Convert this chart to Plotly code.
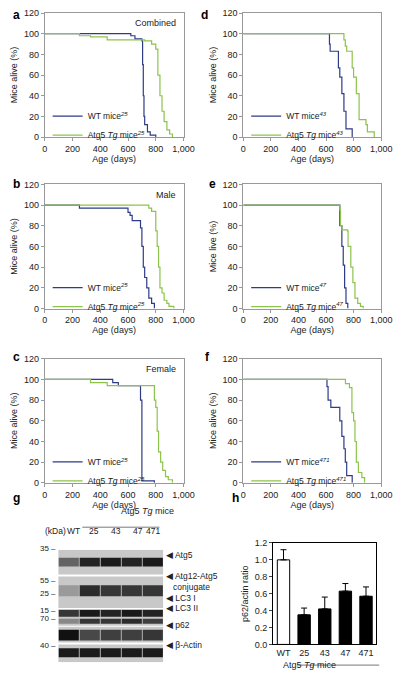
import plotly.graph_objects as go

# page has an 8px body margin: figure is drawn 8px in from the top-left
OFF = 8
W, H = 404 - 2 * OFF, 685 - 2 * OFF
def px(x): return (x - OFF) / W
def py(y): return 1 - (y - OFF) / H

WT_C = "#2e3b85"
TG_C = "#8cc34a"
FONT = "Liberation Sans"

# ---- survival data (age days, % alive) ----
a_wt_x = [0, 620, 650, 700, 705, 710, 715, 720, 740, 760, 800]
a_wt_y = [100, 98, 95, 93, 70, 40, 20, 12, 5, 2, 0]
a_tg_x = [0, 250, 330, 450, 720, 770, 800, 815, 830, 845, 860, 880, 900, 920]
a_tg_y = [100, 98, 97, 94, 93, 90, 85, 60, 40, 25, 15, 7, 3, 0]

b_wt_x = [0, 250, 600, 615, 630, 690, 700, 710, 720, 735, 750, 770, 790]
b_wt_y = [100, 97, 93, 90, 85, 78, 60, 40, 30, 20, 10, 5, 0]
b_tg_x = [0, 750, 770, 800, 810, 820, 830, 845, 860, 880, 895, 930]
b_tg_y = [100, 97, 94, 75, 60, 40, 20, 15, 8, 5, 2, 0]

c_wt_x = [0, 490, 530, 690, 700, 790]
c_wt_y = [100, 97, 94, 80, 2, 0]
c_tg_x = [0, 330, 450, 790, 800, 810, 820, 835, 850, 870, 890, 920]
c_tg_y = [100, 97, 94, 80, 73, 50, 30, 20, 12, 6, 3, 0]

d_wt_x = [0, 625, 630, 690, 700, 715, 730, 745, 790]
d_wt_y = [100, 90, 83, 67, 58, 42, 25, 8, 0]
d_tg_x = [0, 730, 740, 750, 790, 800, 820, 840, 890, 900, 950]
d_tg_y = [100, 94, 88, 83, 67, 58, 42, 17, 12, 5, 0]

e_wt_x = [0, 700, 715, 725, 735, 745, 758]
e_wt_y = [100, 80, 60, 42, 20, 5, 0]
e_tg_x = [0, 700, 705, 715, 755, 760, 780, 795, 810, 830, 850, 870]
e_tg_y = [100, 95, 80, 76, 75, 60, 40, 25, 10, 5, 2, 0]

f_wt_x = [0, 607, 615, 635, 700, 715, 730, 740, 750, 790]
f_wt_y = [100, 93, 80, 73, 60, 45, 33, 20, 7, 0]
f_tg_x = [0, 741, 770, 788, 800, 810, 820, 835, 860, 880]
f_tg_y = [100, 96, 92, 68, 60, 40, 20, 10, 5, 0]

# ---- bar chart h ----
h_labels = ["WT", "25", "43", "47", "471"]
h_values = [1.0, 0.35, 0.42, 0.63, 0.57]
h_errors = [0.12, 0.08, 0.14, 0.09, 0.11]

# ---- western blot g ----
lanes = ["WT", "25", "43", "47", "471"]
band_atg5 = [0.55, 0.9, 0.95, 0.9, 0.95]
band_atg12 = [0.25, 0.85, 0.8, 0.8, 0.8]
band_lc3i = [0.8, 0.95, 0.9, 0.95, 0.9]
band_lc3ii = [0.35, 0.8, 0.8, 0.85, 0.75]
band_p62 = [1.0, 0.7, 0.75, 0.75, 0.8]
band_actin = [0.95, 0.95, 0.95, 0.95, 0.95]

panels = [
    ("a", (a_wt_x, a_wt_y), (a_tg_x, a_tg_y), "25", "Mice alive (%)", "Combined", (43, 187), (8, 134), (8, 10)),
    ("b", (b_wt_x, b_wt_y), (b_tg_x, b_tg_y), "25", "Mice alive (%)", "Male", (43, 187), (182, 308), (8, 182)),
    ("c", (c_wt_x, c_wt_y), (c_tg_x, c_tg_y), "25", "Mice alive (%)", "Female", (43, 187), (359, 485), (8, 357)),
    ("d", (d_wt_x, d_wt_y), (d_tg_x, d_tg_y), "43", "Mice alive (%)", None, (249, 392), (8, 134), (203, 10)),
    ("e", (e_wt_x, e_wt_y), (e_tg_x, e_tg_y), "47", "Mice live (%)", None, (249, 392), (182, 308), (211, 182)),
    ("f", (f_wt_x, f_wt_y), (f_tg_x, f_tg_y), "471", "Mice alive (%)", None, (249, 392), (359, 485), (207, 357)),
]

fig = go.Figure()
layout = dict(width=W, height=H, margin=dict(l=0, r=0, t=0, b=0),
              plot_bgcolor="white", paper_bgcolor="white",
              font=dict(family=FONT, size=9, color="#222"), showlegend=True)
ann = []
shapes = []
tickf = dict(family=FONT, size=9, color="#222")

for i, (key, wt, tg, sup, ytit, title, xd, yd, lp) in enumerate(panels):
    n = i + 1
    xa = "x" if n == 1 else f"x{n}"
    ya = "y" if n == 1 else f"y{n}"
    lg = "legend" if n == 1 else f"legend{n}"
    fig.add_trace(go.Scatter(x=wt[0], y=wt[1], mode="lines", line=dict(color=WT_C, width=1.2, shape="hv"),
                             name=f"WT mice<sup><i>{sup}</i></sup>", xaxis=xa, yaxis=ya, legend=lg))
    fig.add_trace(go.Scatter(x=tg[0], y=tg[1], mode="lines", line=dict(color=TG_C, width=1.2, shape="hv"),
                             name=f"Atg5 <i>Tg</i> mice<sup><i>{sup}</i></sup>", xaxis=xa, yaxis=ya, legend=lg))
    layout["xaxis" if n == 1 else f"xaxis{n}"] = dict(
        domain=[px(xd[0]), px(xd[1])], range=[0, 1000], dtick=200, tickformat=",", anchor=ya,
        showline=True, linecolor="#999", mirror=True, ticks="outside", ticklen=3, tickcolor="#999",
        showgrid=False, zeroline=False, tickfont=tickf,
        title=dict(text="Age (days)", font=dict(family=FONT, size=9), standoff=2))
    layout["yaxis" if n == 1 else f"yaxis{n}"] = dict(
        domain=[py(yd[1]), py(yd[0])], range=[0, 120], dtick=20, anchor=xa,
        showline=True, linecolor="#999", mirror=True, ticks="outside", ticklen=3, tickcolor="#999",
        showgrid=False, zeroline=False, tickfont=tickf,
        title=dict(text=ytit, font=dict(family=FONT, size=9), standoff=4))
    layout[lg] = dict(x=px(xd[0] + 3), y=py(yd[1] - 36), xanchor="left", yanchor="top",
                      bgcolor="rgba(0,0,0,0)", font=dict(family=FONT, size=8.5),
                      tracegroupgap=0, itemwidth=30)
    ann.append(dict(text=f"<b>{key}</b>", x=px(lp[0]), y=py(lp[1]), xref="paper", yref="paper",
                    xanchor="left", yanchor="middle", showarrow=False, font=dict(size=12, family=FONT, color="black")))
    if title:
        ann.append(dict(text=title, x=960, y=110, xref=xa, yref=ya, xanchor="right", yanchor="middle",
                        showarrow=False, font=dict(size=9, family=FONT)))

# ---- bar chart h ----
fig.add_trace(go.Bar(x=h_labels, y=h_values, xaxis="x7", yaxis="y7", showlegend=False,
                     marker=dict(color=["white"] + ["black"] * 4, line=dict(color="black", width=1)),
                     width=0.6,
                     error_y=dict(type="data", array=h_errors, arrayminus=[0] * 5, color="black",
                                  thickness=1, width=3)))
layout["xaxis7"] = dict(domain=[px(280), px(387)], anchor="y7", showline=True, linecolor="black", mirror=True,
                        ticks="", showgrid=False, tickfont=tickf)
layout["yaxis7"] = dict(domain=[py(649), py(546)], anchor="x7", range=[0, 1.2], dtick=0.2, tickformat=".1f",
                        showline=True, linecolor="black", mirror=True, ticks="outside", ticklen=3,
                        showgrid=False, zeroline=False, tickfont=tickf,
                        title=dict(text="p62/actin ratio", font=dict(family=FONT, size=9), standoff=4))
shapes.append(dict(type="line", xref="paper", yref="paper", x0=px(305), x1=px(390), y0=py(670), y1=py(670),
                   line=dict(color="#555", width=0.8)))
ann.append(dict(text="Atg5 <i>Tg</i> mice", x=px(347), y=py(677), xref="paper", yref="paper",
                showarrow=False, font=dict(size=9, family=FONT)))
ann.append(dict(text="<b>h</b>", x=px(235), y=py(510), xref="paper", yref="paper", xanchor="left",
                showarrow=False, font=dict(size=12, family=FONT, color="black")))

# ---- western blot g ----
layout["xaxis8"] = dict(domain=[px(57), px(166)], anchor="y8", range=[-0.5, 4.5], visible=False)
layout["yaxis8"] = dict(domain=[py(667), py(553)], anchor="x8", range=[114, 0], visible=False)
fig.add_trace(go.Scatter(x=[0, 4], y=[0, 0], mode="markers", marker=dict(opacity=0), xaxis="x8", yaxis="y8",
                         showlegend=False, hoverinfo="skip"))
blocks = [(0, 25), (27, 59), (60, 77), (78, 94), (96, 114)]
for y0, y1 in blocks:
    shapes.append(dict(type="rect", xref="x8", yref="y8", x0=-0.5, x1=4.5, y0=y0, y1=y1,
                       fillcolor="#c8c8c8", line=dict(width=0), layer="below"))
bands = [(band_atg5, 8, 17), (band_atg12, 36, 47), (band_lc3i, 61, 68), (band_lc3ii, 70, 75),
         (band_p62, 81, 92), (band_actin, 100, 109)]
for vals, y0, y1 in bands:
    for li, v in enumerate(vals):
        shapes.append(dict(type="rect", xref="x8", yref="y8", x0=li - 0.48, x1=li + 0.48, y0=y0, y1=y1,
                           fillcolor="#111", opacity=v, line=dict(width=0), layer="below"))
lane_x = [64, 87, 110, 133, 155]
for lx, lab in zip(lane_x, lanes):
    ann.append(dict(text=lab, x=px(lx), y=py(541), xref="paper", yref="paper", showarrow=False,
                    font=dict(size=8.5, family=FONT)))
ann.append(dict(text="(kDa)", x=px(41), y=py(541), xref="paper", yref="paper", showarrow=False,
                font=dict(size=8.5, family=FONT)))
ann.append(dict(text="Atg5 <i>Tg</i> mice", x=px(120), y=py(521), xref="paper", yref="paper", showarrow=False,
                font=dict(size=9, family=FONT)))
shapes.append(dict(type="line", xref="paper", yref="paper", x0=px(82), x1=px(162), y0=py(530), y1=py(530),
                   line=dict(color="#555", width=0.8)))
kda = [("35", 558), ("55", 591), ("25", 604), ("15", 621), ("70", 629), ("40", 657)]
for t, yy in kda:
    ann.append(dict(text=t + " –", x=px(57), y=py(yy), xref="paper", yref="paper", xanchor="right",
                    showarrow=False, font=dict(size=8, family=FONT)))
right = [("◀ Atg5", 565), ("◀ Atg12-Atg5", 587), ("   conjugate", 598), ("◀ LC3 I", 609),
         ("◀ LC3 II", 619), ("◀ p62", 636), ("◀ β-Actin", 657)]
for t, yy in right:
    ann.append(dict(text=t, x=px(167), y=py(yy), xref="paper", yref="paper", xanchor="left",
                    showarrow=False, font=dict(size=8.5, family=FONT)))
ann.append(dict(text="<b>g</b>", x=px(8), y=py(510), xref="paper", yref="paper", xanchor="left",
                showarrow=False, font=dict(size=12, family=FONT, color="black")))

layout["annotations"] = ann
layout["shapes"] = shapes
fig.update_layout(**layout)
fig.write_html("out.html")
